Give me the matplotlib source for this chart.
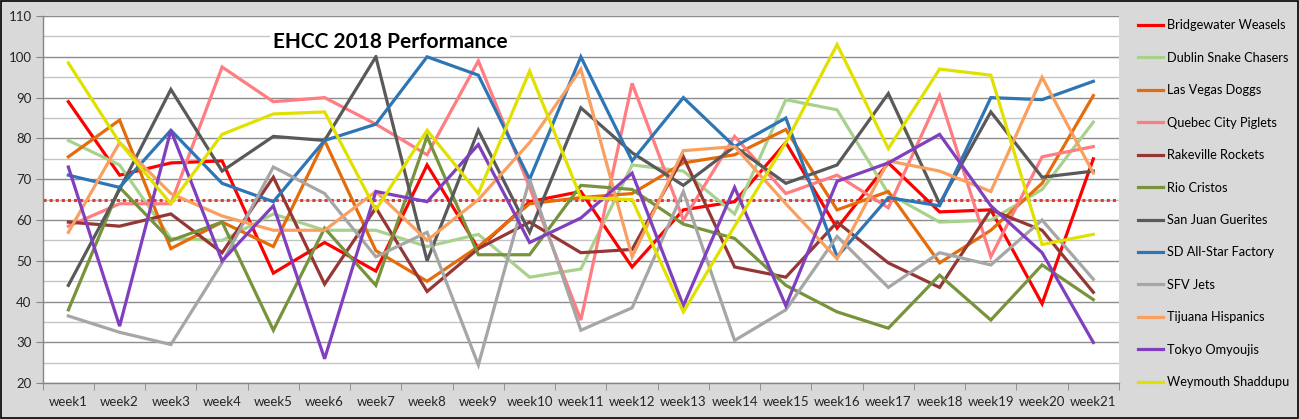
import matplotlib
matplotlib.use("Agg")
import matplotlib.pyplot as plt
from matplotlib.patches import Rectangle

# weekly scores per team
weeks = [f"week{i}" for i in range(1, 22)]

bridgewater = [89, 71, 74, 74.5, 47, 54.5, 47.5, 73.5, 53, 64.5, 67, 48.5, 62.5, 64.5, 79, 58, 74, 62, 62.5, 39.5, 75]
dublin = [79.5, 73.5, 55.5, 55, 61.5, 57.5, 57.5, 53.5, 56.5, 46, 48, 73.5, 72, 61.5, 89.5, 87, 66.5, 59.5, 60, 67.5, 84]
las_vegas = [75.5, 84.5, 53, 59.5, 53.5, 79.5, 52.5, 45, 53.5, 64, 65.5, 66.5, 74, 76, 82.2, 62.5, 67, 49.5, 57.5, 69, 90.5]
quebec = [58.5, 64, 64, 97.5, 89, 90, 83.5, 76, 99, 68, 35.5, 93.5, 60, 80.5, 66.5, 71, 63, 90.5, 51, 75.5, 78]
rakeville = [59.5, 58.5, 61.5, 52, 70.5, 44.3, 63, 42.5, 53, 59.5, 52, 52.8, 75.5, 48.5, 46, 59.5, 49.5, 43.5, 62.5, 57.5, 42.3]
rio = [38, 68, 55, 59.5, 33, 58, 44, 80.5, 51.5, 51.5, 68.5, 67.5, 59, 55.5, 44, 37.5, 33.5, 46.5, 35.5, 49, 40.5]
san_juan = [44, 67.5, 92, 72, 80.5, 79.5, 100, 50, 82, 57, 87.5, 76.5, 68.5, 78, 69, 73.5, 91, 64, 86.5, 70.5, 72]
sd_allstar = [71, 68, 82, 69, 64.5, 79.5, 83.5, 100, 95.5, 70, 100, 74.5, 90, 78, 85, 51, 65.5, 63.5, 90, 89.5, 94]
sfv = [36.5, 32.5, 29.5, 49.5, 73, 66.5, 51, 57, 24.5, 70, 33, 38.5, 67, 30.5, 38, 56, 43.5, 52, 49, 60, 45.5]
tijuana = [57, 79, 66.5, 61, 57.5, 57.5, 67, 55, 65, 79, 97, 51, 77, 78, 64, 50.5, 74.5, 72, 67, 95, 71.5]
tokyo = [73, 34, 82, 50, 63.5, 26, 67, 64.5, 78.5, 54.5, 60.5, 71.5, 39, 68, 39, 69.5, 74, 81, 63.5, 52, 30]
weymouth = [98.5, 79, 64, 81, 86, 86.5, 62.5, 82, 66.5, 96.5, 65.5, 65, 37.5, 58.5, 79, 103, 77.5, 97, 95.5, 54, 56.5]

average_line = 65

series = [
    ("Bridgewater Weasels", bridgewater, "#ff0000"),
    ("Dublin Snake Chasers", dublin, "#a9d18e"),
    ("Las Vegas Doggs", las_vegas, "#e46c0a"),
    ("Quebec City Piglets", quebec, "#ff7c80"),
    ("Rakeville Rockets", rakeville, "#953735"),
    ("Rio Cristos", rio, "#77933c"),
    ("San Juan Guerites", san_juan, "#595959"),
    ("SD All-Star Factory", sd_allstar, "#2e75b6"),
    ("SFV Jets", sfv, "#a6a6a6"),
    ("Tijuana Hispanics", tijuana, "#f9a061"),
    ("Tokyo Omyoujis", tokyo, "#7f3fbf"),
    ("Weymouth Shaddupu", weymouth, "#e1e100"),
]

plt.rcParams["font.family"] = ["Lato", "DejaVu Sans"]

fig = plt.figure(figsize=(12.99, 4.19), dpi=100, facecolor="#d9d9d9")
ax = fig.add_axes([0.0329, 0.0852, 0.8285, 0.8766])
ax.set_facecolor("white")

x = list(range(len(weeks)))
handles = []
for i, (name, values, color) in enumerate(series):
    (line,) = ax.plot(x, values, color=color, lw=2.3, label=name, zorder=3 + i * 0.01,
                      solid_joinstyle="miter")
    handles.append(line)

ax.axhline(average_line, color="#e8382c", lw=2.2, ls=(0, (1, 1)), zorder=2.5)

ax.set_xlim(-0.5, len(weeks) - 0.5)
ax.set_ylim(20, 110)
ax.set_yticks(range(20, 111, 10))
ax.set_yticks(range(25, 110, 10), minor=True)
ax.grid(True, axis="y", which="major", color="#8c8c8c", lw=1, zorder=1)
ax.grid(True, axis="y", which="minor", color="#c4c4c4", lw=1, zorder=1)

ax.set_xticks(x)
ax.set_xticklabels(weeks)
ax.set_xticks([i - 0.5 for i in range(len(weeks) + 1)], minor=True)
ax.tick_params(axis="x", which="major", length=0, pad=9, labelsize=9.5, colors="#262626")
ax.tick_params(axis="x", which="minor", length=5, color="#868686")
ax.tick_params(axis="y", which="major", length=5, color="#868686", labelsize=9.5,
               labelcolor="#262626", pad=3)
ax.tick_params(axis="y", which="minor", length=0)

for side in ("top", "right"):
    ax.spines[side].set_visible(False)
for side in ("left", "bottom"):
    ax.spines[side].set_color("#868686")
    ax.spines[side].set_linewidth(1)

ax.text(0.3227, 0.928, "EHCC 2018 Performance", transform=ax.transAxes,
        ha="center", va="center", fontsize=15, fontweight="bold", color="black",
        bbox=dict(facecolor="white", edgecolor="none", pad=2), zorder=10)

fig.legend(handles=handles, loc="upper left", bbox_to_anchor=(0.872, 0.966),
           frameon=False, fontsize=9.2, handlelength=2.0, handletextpad=0.25,
           labelspacing=1.6, borderaxespad=0)

fig.add_artist(Rectangle((0.0008, 0.0012), 0.9984, 0.9976, transform=fig.transFigure,
                         fill=False, edgecolor="black", lw=1.2))

fig.savefig("out.png", dpi=100, facecolor=fig.get_facecolor())
